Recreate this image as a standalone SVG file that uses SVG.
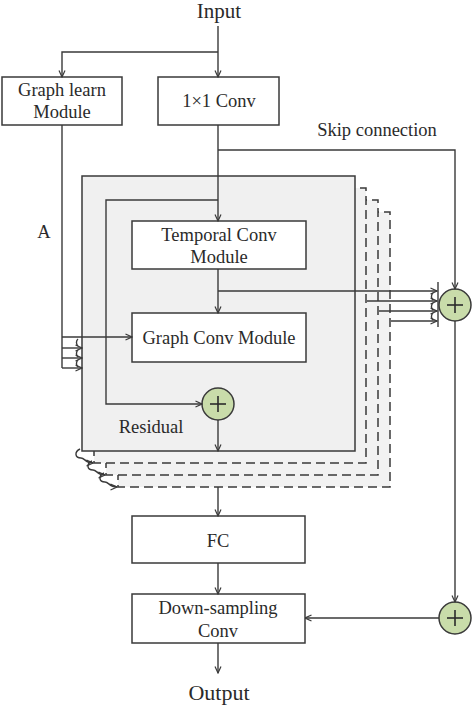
<svg xmlns="http://www.w3.org/2000/svg" width="474" height="706" viewBox="0 0 474 706">
<defs>
<style>
.box{fill:#ffffff;stroke:#3a3a3a;stroke-width:1.5}
.main{fill:#f0f0f0;stroke:#3a3a3a;stroke-width:1.5}
.dash{fill:#f2f2f2;stroke:#3a3a3a;stroke-width:1.5;stroke-dasharray:9 5}
.ln{fill:none;stroke:#3a3a3a;stroke-width:1.4}
.arr{fill:none;stroke:#3a3a3a;stroke-width:1.4;marker-end:url(#ah)}
.add{fill:#c9dcaa;stroke:#3a3a3a;stroke-width:1.5}
.plus{stroke:#2a2a2a;stroke-width:1.6}
text{font-family:"Liberation Serif","Times New Roman",serif;fill:#2a2a2a;text-anchor:middle}
.t{font-size:18.5px}
.big{font-size:21px}
</style>
<marker id="ah" viewBox="0 0 8 8" refX="7.5" refY="4" markerWidth="8" markerHeight="8" markerUnits="userSpaceOnUse" orient="auto">
<path d="M1,1 L7.5,4 L1,7" fill="none" stroke="#3a3a3a" stroke-width="1.2"/>
</marker>
</defs>
<rect width="474" height="706" fill="#ffffff"/>

<g id="stack">
<rect class="dash" x="118" y="212" width="272" height="275"/>
<rect class="dash" x="106" y="200" width="272" height="275"/>
<rect class="dash" x="94" y="188" width="272" height="275"/>
<rect class="main" x="82" y="176" width="273" height="275"/>
</g>

<g id="input"><text class="big" x="219" y="18">Input</text></g>

<g id="graph-learn">
<rect class="box" x="2" y="77" width="120" height="48"/>
<text class="t" x="62" y="96">Graph learn</text>
<text class="t" x="62" y="118">Module</text>
</g>

<g id="conv1x1">
<rect class="box" x="158" y="77" width="121" height="48"/>
<text class="t" x="219" y="107">1×1 Conv</text>
</g>

<g id="skip-label"><text class="t" x="377" y="136">Skip connection</text></g>
<g id="a-label"><text class="t" x="44" y="238">A</text></g>

<g id="temporal">
<rect class="box" x="132" y="221" width="174" height="48"/>
<text class="t" x="219" y="241">Temporal Conv</text>
<text class="t" x="219" y="263">Module</text>
</g>

<g id="graphconv">
<rect class="box" x="132" y="313" width="174" height="49"/>
<text class="t" x="219" y="344">Graph Conv Module</text>
</g>

<g id="add-res">
<circle class="add" cx="218" cy="404" r="16"/>
<line class="plus" x1="210" y1="404" x2="226" y2="404"/>
<line class="plus" x1="218" y1="396" x2="218" y2="412"/>
</g>
<g id="residual-label"><text class="t" x="151" y="433">Residual</text></g>

<g id="add-skip">
<circle class="add" cx="455" cy="305" r="16"/>
<line class="plus" x1="447" y1="305" x2="463" y2="305"/>
<line class="plus" x1="455" y1="297" x2="455" y2="313"/>
</g>

<g id="add-out">
<circle class="add" cx="455" cy="618" r="16"/>
<line class="plus" x1="447" y1="618" x2="463" y2="618"/>
<line class="plus" x1="455" y1="610" x2="455" y2="626"/>
</g>

<g id="fc">
<rect class="box" x="132" y="516" width="173" height="47"/>
<text class="t" x="218" y="547">FC</text>
</g>

<g id="downsampling">
<rect class="box" x="132" y="594" width="173" height="49"/>
<text class="t" x="218" y="614">Down-sampling</text>
<text class="t" x="218" y="637">Conv</text>
</g>

<g id="output"><text class="big" x="219" y="700" style="font-size:22px">Output</text></g>

<g id="connectors">
<line class="arr" x1="218" y1="26" x2="218" y2="77"/>
<polyline class="arr" points="218,52 62,52 62,77"/>
<line class="arr" x1="218" y1="125" x2="218" y2="221"/>
<polyline class="arr" points="218,150 455,150 455,289"/>
<polyline class="arr" points="218,200 106,200 106,404 202,404"/>
<line class="arr" x1="218" y1="269" x2="218" y2="313"/>
<polyline class="arr" points="218,291 437,291"/>
<polyline class="arr" points="367,301 437,301"/>
<polyline class="arr" points="379,311 437,311"/>
<polyline class="arr" points="391,321 437,321"/>
<line class="ln" x1="438" y1="282" x2="438" y2="327"/>
<path class="ln" d="M433,293 a3,4 0 0 0 0,7 M433,303 a3,4 0 0 0 0,7 M433,313 a3,4 0 0 0 0,7"/>
<line class="ln" x1="62" y1="125" x2="62" y2="368"/>
<line class="arr" x1="62" y1="337" x2="132" y2="337"/>
<line class="arr" x1="62" y1="348" x2="82" y2="348"/>
<line class="arr" x1="62" y1="358" x2="82" y2="358"/>
<line class="arr" x1="62" y1="368" x2="82" y2="368"/>
<path class="ln" d="M78,339 a3,4 0 0 0 0,7 M78,350 a3,4 0 0 0 0,7 M78,360 a3,4 0 0 0 0,7"/>
<line class="arr" x1="218" y1="420" x2="218" y2="451"/>
<path class="arr" d="M80,449 C74,452 75,458 81,458 C85,458 85,463 93,463"/>
<path class="arr" d="M92,461 C86,464 87,470 93,470 C97,470 97,475 105,475"/>
<path class="arr" d="M104,473 C98,476 99,482 105,482 C109,482 109,487 117,487"/>
<line class="arr" x1="218" y1="487" x2="218" y2="516"/>
<line class="arr" x1="218" y1="563" x2="218" y2="594"/>
<line class="arr" x1="455" y1="321" x2="455" y2="602"/>
<line class="arr" x1="439" y1="618" x2="305" y2="618"/>
<line class="arr" x1="218" y1="643" x2="218" y2="673"/>
</g>
</svg>
